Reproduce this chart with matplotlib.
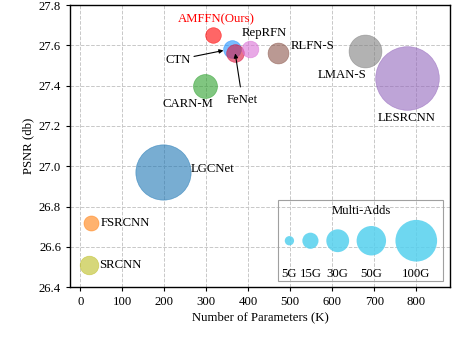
import matplotlib.pyplot as plt

plt.rcParams['font.family'] = ['Liberation Serif', 'DejaVu Serif']

# models: params (K), PSNR (db), multi-adds (G)
names = ['AMFFN(Ours)', 'CTN', 'FeNet', 'RepRFN', 'RLFN-S', 'LMAN-S',
         'LESRCNN', 'CARN-M', 'LGCNet', 'FSRCNN', 'SRCNN']
params = [315, 361, 369, 405, 472, 677, 778, 296, 196, 25, 20]
psnr = [27.65, 27.58, 27.56, 27.58, 27.56, 27.57, 27.44, 27.40, 26.97, 26.72, 26.51]
madds = [14, 18, 18, 16, 25, 62, 233, 33, 176, 13, 20]
colors = ['red', 'dodgerblue', 'crimson', 'orchid', 'tab:brown', 'tab:gray',
          'tab:purple', 'tab:green', 'tab:blue', 'tab:orange', 'tab:olive']

# size legend
leg_madds = [5, 15, 30, 50, 100]
leg_labels = ['5G', '15G', '30G', '50G', '100G']
leg_x = [498, 548, 613, 693, 800]

scale = 9.0

fig = plt.figure(figsize=(4.74, 3.45), dpi=100)
ax = fig.add_axes([0.148, 0.168, 0.802, 0.817])

ax.grid(True, linestyle='--', color='#c8c8c8', linewidth=0.7, zorder=0)

for x, y, m, c in zip(params, psnr, madds, colors):
    ax.scatter(x, y, s=m * scale, color=c, alpha=0.6, edgecolors=c,
               linewidths=0.5, zorder=3)

# labels
fs = 9.2
ax.text(323, 27.73, 'AMFFN(Ours)', color='red', fontsize=fs, ha='center', va='center')
ax.text(439, 27.66, 'RepRFN', fontsize=fs, ha='center', va='center')
ax.text(500, 27.595, 'RLFN-S', fontsize=fs, ha='left', va='center')
ax.text(256, 27.31, 'CARN-M', fontsize=fs, ha='center', va='center')
ax.text(624, 27.455, 'LMAN-S', fontsize=fs, ha='center', va='center')
ax.text(776, 27.24, 'LESRCNN', fontsize=fs, ha='center', va='center')
ax.text(263, 26.985, 'LGCNet', fontsize=fs, ha='left', va='center')
ax.text(48, 26.72, 'FSRCNN', fontsize=fs, ha='left', va='center')
ax.text(45, 26.51, 'SRCNN', fontsize=fs, ha='left', va='center')
ax.annotate('CTN', xy=(341, 27.575), xytext=(234, 27.53), fontsize=fs,
            ha='center', va='center', zorder=5,
            arrowprops=dict(arrowstyle='-|>', color='black', lw=0.8,
                            mutation_scale=6, shrinkA=0, shrinkB=0))
ax.annotate('FeNet', xy=(369, 27.56), xytext=(386, 27.33), fontsize=fs,
            ha='center', va='center', zorder=5,
            arrowprops=dict(arrowstyle='-|>', color='black', lw=0.8,
                            mutation_scale=6, shrinkA=3, shrinkB=0))

# multi-adds legend box
box = plt.Rectangle((470, 26.43), 393, 0.40, fill=False, edgecolor='#a0a0a0',
                    linewidth=0.8, zorder=4)
ax.add_patch(box)
ax.text(669, 26.78, 'Multi-Adds', fontsize=fs, ha='center', va='center', zorder=5)
for x, m, lab in zip(leg_x, leg_madds, leg_labels):
    ax.scatter(x, 26.63, s=m * scale, color='#55d0ee', alpha=0.85,
               edgecolors='none', zorder=5)
    ax.text(x, 26.466, lab, fontsize=fs, ha='center', va='center', zorder=5)

ax.set_xlim(-24, 881)
ax.set_ylim(26.4, 27.8)
ax.set_xticks([0, 100, 200, 300, 400, 500, 600, 700, 800])
ax.set_yticks([26.4, 26.6, 26.8, 27.0, 27.2, 27.4, 27.6, 27.8])
ax.set_yticklabels(['26.4', '26.6', '26.8', '27.0', '27.2', '27.4', '27.6', '27.8'])
ax.tick_params(labelsize=fs, direction='out', length=3)
ax.set_xlabel('Number of Parameters (K)', fontsize=fs, labelpad=2)
ax.set_ylabel('PSNR (db)', fontsize=fs, labelpad=3)
for s in ax.spines.values():
    s.set_linewidth(1.0)

fig.savefig('out.png', dpi=100)
